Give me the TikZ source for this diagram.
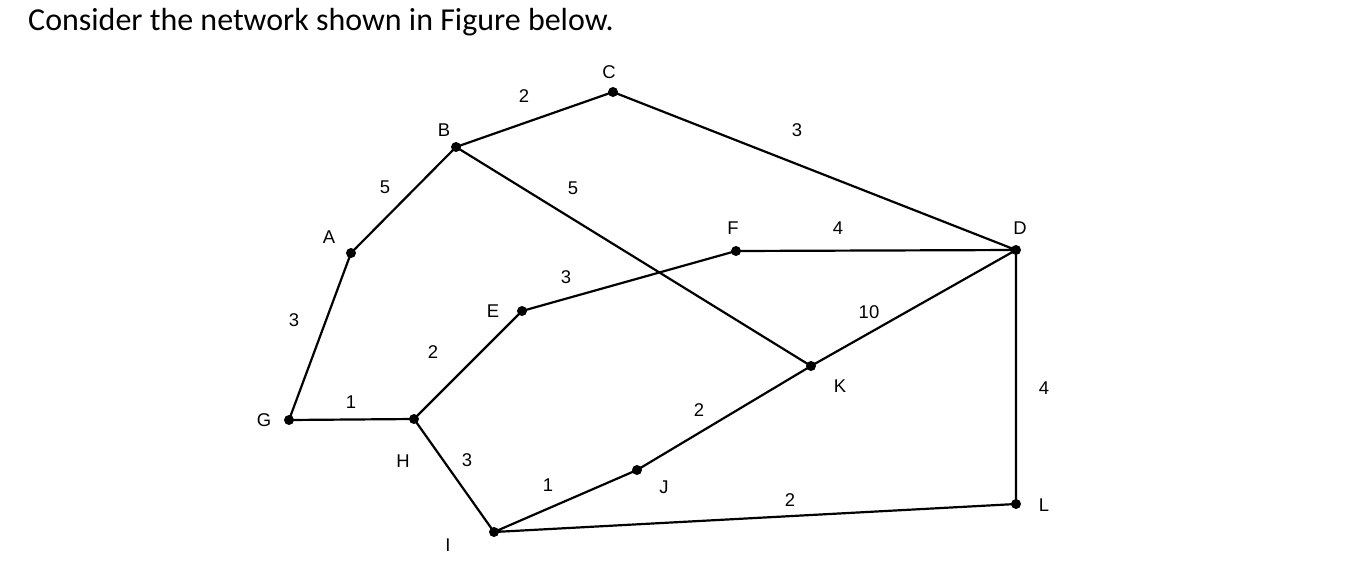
\documentclass[tikz,border=0pt]{standalone}
\usepackage{fontspec}
\setmainfont{Liberation Sans}
\newfontfamily\titlefont{Carlito}
\begin{document}
\begin{tikzpicture}[x=0.02cm,y=-0.02cm,
  vtx/.style={circle,fill=black,inner sep=0pt,minimum size=0.2cm},
  lbl/.style={font=\fontsize{10.5}{12}\selectfont},
  edge/.style={line width=1.25pt}]
\useasboundingbox (0,0) rectangle (1346,572);
\node[anchor=west,font=\titlefont\fontsize{18.2}{21}\selectfont] (title) at (22,22) {Consider the network shown in Figure below.};
\node[vtx] (C) at (613,92) {};
\node[vtx] (B) at (456,147) {};
\node[vtx] (A) at (351,253) {};
\node[vtx] (G) at (289,420) {};
\node[vtx] (H) at (414,419) {};
\node[vtx] (E) at (522,311) {};
\node[vtx] (F) at (736,251) {};
\node[vtx] (D) at (1016,250) {};
\node[vtx] (K) at (811,366) {};
\node[vtx] (J) at (637,470) {};
\node[vtx] (I) at (494,532) {};
\node[vtx] (L) at (1016,504) {};
\draw[edge] (B.center)--(C.center) (C.center)--(D.center) (B.center)--(K.center)
  (A.center)--(B.center) (F.center)--(D.center) (E.center)--(F.center)
  (K.center)--(D.center) (G.center)--(A.center) (H.center)--(E.center)
  (G.center)--(H.center) (K.center)--(J.center) (H.center)--(I.center)
  (I.center)--(J.center) (I.center)--(L.center) (D.center)--(L.center);
\foreach \t/\x/\y in {C/609/72,B/444/130,A/329/237,G/264/420,H/403/461,E/493/311,F/733/228,D/1020/228,K/840/386,J/664/487,I/448/545,L/1044/505}
  \node[lbl] (n\t) at (\x,\y) {\t};
\foreach \n/\t/\x/\y in {bc/2/524/96,cd/3/797/130,bk/5/573/188,ab/5/385/187,fd/4/838/228,ef/3/566/277,kd/10/869/312,ga/3/294/320,he/2/433/352,gh/1/351/402,kj/2/699/410,hi/3/467/460,ij/1/548/485,il/2/790/500,dl/4/1044/388}
  \node[lbl] (w\n) at (\x,\y) {\t};
\end{tikzpicture}
\end{document}
